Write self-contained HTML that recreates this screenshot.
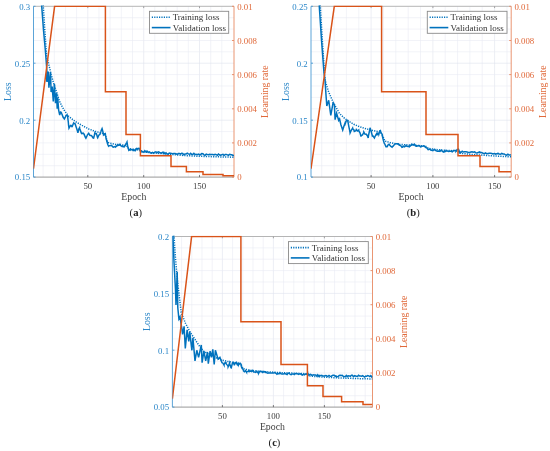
<!DOCTYPE html>
<html><head><meta charset="utf-8"><title>Loss curves</title>
<style>html,body{margin:0;padding:0;background:#fff}svg{display:block}</style></head>
<body>
<svg width="550" height="451" viewBox="0 0 550 451" font-family="'Liberation Serif', 'Times New Roman', serif">
<rect width="550" height="451" fill="#fff"/>
<g stroke-width="0.6"><line x1="43.1" y1="6.3" x2="43.1" y2="177.1" stroke="#e9ebf4"/><line x1="54.3" y1="6.3" x2="54.3" y2="177.1" stroke="#e9ebf4"/><line x1="65.5" y1="6.3" x2="65.5" y2="177.1" stroke="#e9ebf4"/><line x1="76.6" y1="6.3" x2="76.6" y2="177.1" stroke="#e9ebf4"/><line x1="87.8" y1="6.3" x2="87.8" y2="177.1" stroke="#dfe2ed"/><line x1="99.0" y1="6.3" x2="99.0" y2="177.1" stroke="#e9ebf4"/><line x1="110.1" y1="6.3" x2="110.1" y2="177.1" stroke="#e9ebf4"/><line x1="121.3" y1="6.3" x2="121.3" y2="177.1" stroke="#e9ebf4"/><line x1="132.5" y1="6.3" x2="132.5" y2="177.1" stroke="#e9ebf4"/><line x1="143.7" y1="6.3" x2="143.7" y2="177.1" stroke="#dfe2ed"/><line x1="154.8" y1="6.3" x2="154.8" y2="177.1" stroke="#e9ebf4"/><line x1="166.0" y1="6.3" x2="166.0" y2="177.1" stroke="#e9ebf4"/><line x1="177.2" y1="6.3" x2="177.2" y2="177.1" stroke="#e9ebf4"/><line x1="188.3" y1="6.3" x2="188.3" y2="177.1" stroke="#e9ebf4"/><line x1="199.5" y1="6.3" x2="199.5" y2="177.1" stroke="#dfe2ed"/><line x1="210.7" y1="6.3" x2="210.7" y2="177.1" stroke="#e9ebf4"/><line x1="221.8" y1="6.3" x2="221.8" y2="177.1" stroke="#e9ebf4"/><line x1="33.5" y1="165.7" x2="234.0" y2="165.7" stroke="#e9ebf4"/><line x1="33.5" y1="154.3" x2="234.0" y2="154.3" stroke="#e9ebf4"/><line x1="33.5" y1="142.9" x2="234.0" y2="142.9" stroke="#e9ebf4"/><line x1="33.5" y1="131.6" x2="234.0" y2="131.6" stroke="#e9ebf4"/><line x1="33.5" y1="120.2" x2="234.0" y2="120.2" stroke="#dfe2ed"/><line x1="33.5" y1="108.8" x2="234.0" y2="108.8" stroke="#e9ebf4"/><line x1="33.5" y1="97.4" x2="234.0" y2="97.4" stroke="#e9ebf4"/><line x1="33.5" y1="86.0" x2="234.0" y2="86.0" stroke="#e9ebf4"/><line x1="33.5" y1="74.6" x2="234.0" y2="74.6" stroke="#e9ebf4"/><line x1="33.5" y1="63.2" x2="234.0" y2="63.2" stroke="#dfe2ed"/><line x1="33.5" y1="51.8" x2="234.0" y2="51.8" stroke="#e9ebf4"/><line x1="33.5" y1="40.5" x2="234.0" y2="40.5" stroke="#e9ebf4"/><line x1="33.5" y1="29.1" x2="234.0" y2="29.1" stroke="#e9ebf4"/><line x1="33.5" y1="17.7" x2="234.0" y2="17.7" stroke="#e9ebf4"/></g>
<g stroke-width="0.9" fill="none">
<line x1="33.5" y1="6.3" x2="234.0" y2="6.3" stroke="#adadad"/>
<line x1="33.5" y1="177.1" x2="234.0" y2="177.1" stroke="#8c8c8c"/>
<line x1="33.5" y1="6.3" x2="33.5" y2="177.1" stroke="#4a9ad4"/>
<line x1="234.0" y1="6.3" x2="234.0" y2="177.1" stroke="#e88a63"/>
<line x1="87.8" y1="177.1" x2="87.8" y2="175.1" stroke="#666"/>
<line x1="87.8" y1="6.3" x2="87.8" y2="8.1" stroke="#999"/>
<line x1="143.7" y1="177.1" x2="143.7" y2="175.1" stroke="#666"/>
<line x1="143.7" y1="6.3" x2="143.7" y2="8.1" stroke="#999"/>
<line x1="199.5" y1="177.1" x2="199.5" y2="175.1" stroke="#666"/>
<line x1="199.5" y1="6.3" x2="199.5" y2="8.1" stroke="#999"/>
<line x1="33.5" y1="177.1" x2="35.5" y2="177.1" stroke="#4a9ad4"/>
<line x1="33.5" y1="120.2" x2="35.5" y2="120.2" stroke="#4a9ad4"/>
<line x1="33.5" y1="63.2" x2="35.5" y2="63.2" stroke="#4a9ad4"/>
<line x1="33.5" y1="6.3" x2="35.5" y2="6.3" stroke="#4a9ad4"/>
<line x1="234.0" y1="177.1" x2="232.0" y2="177.1" stroke="#e88a63"/>
<line x1="234.0" y1="142.9" x2="232.0" y2="142.9" stroke="#e88a63"/>
<line x1="234.0" y1="108.8" x2="232.0" y2="108.8" stroke="#e88a63"/>
<line x1="234.0" y1="74.6" x2="232.0" y2="74.6" stroke="#e88a63"/>
<line x1="234.0" y1="40.5" x2="232.0" y2="40.5" stroke="#e88a63"/>
<line x1="234.0" y1="6.3" x2="232.0" y2="6.3" stroke="#e88a63"/>
</g>
<clipPath id="ca"><rect x="33.5" y="5.6" width="200.5" height="172.2"/></clipPath>
<g clip-path="url(#ca)" fill="none" stroke-linejoin="round">
<polyline points="43.2,5.0 44.8,30.0 46.7,57.5 48.3,62.2 51.1,74.4 53.8,83.8 56.6,92.1 59.4,101.0 62.1,106.5 64.4,110.5 68.8,116.5 75.5,121.6 82.0,125.4 88.8,129.0 95.4,131.4 102.0,133.0 105.4,135.4 107.6,142.5 115.4,144.3 126.5,145.4 128.7,148.7 137.6,149.8 140.4,150.6 141.5,151.8 155.0,153.0 170.0,154.4 185.0,155.6 200.0,156.3 220.0,156.9 234.0,157.2" stroke="#0072BD" stroke-width="1.5" stroke-dasharray="1.2 1.2"/>
<polyline points="41.6,5.0 43.5,30.0 45.3,50.0 46.1,60.0 46.9,71.0 46.6,81.0 47.3,81.1 48.3,71.6 48.9,87.7 50.5,72.2 51.1,92.0 52.2,86.6 53.3,101.5 54.4,83.8 55.5,103.2 56.6,93.2 57.2,108.7 57.7,97.7 58.6,109.8 59.7,115.0 60.6,112.0 60.8,112.0 61.6,113.0 61.9,114.0 63.0,117.0 63.1,116.9 64.2,118.9 64.3,119.0 65.3,117.1 66.0,115.5 66.4,115.3 67.5,115.8 67.6,116.3 68.3,122.0 68.6,125.3 69.0,128.2 69.8,126.7 70.6,125.5 70.9,125.4 72.0,126.6 72.3,126.3 73.1,124.2 73.6,123.0 74.2,123.6 75.0,123.6 75.3,124.6 76.5,128.0 76.5,128.0 77.6,131.4 77.9,132.9 78.7,129.6 78.8,129.0 79.6,127.6 79.8,128.7 80.6,131.0 80.9,131.9 81.6,133.6 82.0,133.7 83.0,133.0 83.2,133.4 84.3,134.4 84.3,134.9 85.4,137.4 85.9,138.2 86.5,137.0 87.4,135.0 87.6,134.6 88.7,133.3 88.9,133.6 89.9,135.4 90.2,135.5 91.0,135.5 91.6,135.6 92.1,136.5 93.2,138.1 93.6,138.2 94.3,135.5 94.9,132.9 95.4,133.6 96.3,133.5 96.6,134.2 97.6,137.6 97.7,137.8 98.8,135.3 99.0,135.0 99.9,134.4 100.2,133.6 101.0,131.4 101.2,130.5 102.1,128.6 102.2,128.9 103.3,133.4 103.5,134.9 104.4,134.0 105.3,133.6 105.5,135.2 106.2,138.9 106.6,140.3 107.5,143.5 107.7,144.3 108.5,146.0 108.8,145.6 110.0,145.7 111.0,145.4 111.1,145.3 112.2,146.1 113.0,147.0 113.3,147.1 114.4,146.8 115.4,146.5 115.6,147.0 116.7,145.9 117.6,145.0 117.8,145.6 118.9,145.2 119.8,144.3 120.0,145.3 121.1,145.9 122.0,146.5 122.3,145.9 123.4,146.8 124.3,146.0 124.5,146.5 125.6,144.9 125.8,144.0 126.7,142.6 127.0,142.0 127.8,147.0 127.9,147.0 128.7,149.8 129.0,149.3 130.1,150.2 131.0,149.5 131.2,149.7 132.3,149.8 133.0,150.5 133.4,149.6 134.5,150.5 135.5,149.5 135.7,150.2 136.8,148.4 137.6,148.7 137.9,149.0 139.0,148.0 139.0,147.9 140.1,150.0 140.3,151.0 141.4,150.8 142.5,151.8 143.7,152.1 144.8,150.7 145.9,151.9 147.0,151.0 148.1,152.4 149.2,151.8 150.0,152.2 150.4,152.9 151.5,153.2 152.6,152.4 153.7,153.3 154.8,152.1 155.9,151.8 157.1,152.8 158.2,151.8 159.3,152.2 160.0,152.8 160.4,152.7 161.5,153.1 162.6,152.3 163.8,152.2 164.9,153.7 166.0,152.8 167.1,154.0 168.2,153.9 169.3,153.0 170.0,153.3 170.5,153.2 171.6,153.4 172.7,153.7 173.8,153.6 174.9,153.6 176.0,153.8 177.2,154.4 178.3,153.6 179.4,153.6 180.0,153.7 180.5,154.1 181.6,153.3 182.7,153.5 183.9,154.7 185.0,153.9 186.1,154.0 187.2,153.1 188.3,153.9 189.4,154.2 190.0,154.1 190.6,153.3 191.7,154.4 192.8,154.4 193.9,153.4 195.0,154.5 196.1,154.2 197.3,154.6 198.4,154.1 199.5,154.8 200.0,154.4 200.6,154.8 201.7,153.6 202.9,153.7 204.0,154.8 205.1,155.4 206.2,154.1 207.3,154.5 208.4,154.8 209.6,154.4 210.0,154.7 210.7,154.5 211.8,154.4 212.9,154.5 214.0,155.0 215.1,154.4 216.3,154.6 217.4,155.3 218.5,154.0 219.6,155.0 220.0,154.9 220.7,155.3 221.8,154.6 223.0,154.4 224.1,155.5 225.2,154.5 226.3,154.4 227.4,154.9 228.5,155.4 229.7,154.3 230.8,154.7 231.9,154.8 233.0,155.7 234.0,155.1" stroke="#0072BD" stroke-width="1.5" stroke-linejoin="miter"/>
<polyline points="33.5,168.7 54.6,6.3 105.4,6.3 105.4,91.7 126.0,91.7 126.0,134.4 140.4,134.4 140.4,155.8 171.0,155.8 171.0,166.4 186.4,166.4 186.4,171.8 203.0,171.8 203.0,174.4 223.0,174.4 223.0,175.8 234.0,175.8" stroke="#D95319" stroke-width="1.5" stroke-linejoin="miter"/>
</g>
<g font-size="8.8">
<text x="87.8" y="189.1" text-anchor="middle" fill="#404040">50</text>
<text x="143.7" y="189.1" text-anchor="middle" fill="#404040">100</text>
<text x="199.5" y="189.1" text-anchor="middle" fill="#404040">150</text>
<text x="30.2" y="180.4" text-anchor="end" fill="#2a86c8">0.15</text>
<text x="30.2" y="123.5" text-anchor="end" fill="#2a86c8">0.2</text>
<text x="30.2" y="66.5" text-anchor="end" fill="#2a86c8">0.25</text>
<text x="30.2" y="9.6" text-anchor="end" fill="#2a86c8">0.3</text>
<text x="237.2" y="180.4" fill="#e0693a">0</text>
<text x="237.2" y="146.2" fill="#e0693a">0.002</text>
<text x="237.2" y="112.1" fill="#e0693a">0.004</text>
<text x="237.2" y="77.9" fill="#e0693a">0.006</text>
<text x="237.2" y="43.8" fill="#e0693a">0.008</text>
<text x="237.2" y="9.6" fill="#e0693a">0.01</text>
</g>
<g font-size="9.8">
<text x="133.8" y="200.4" text-anchor="middle" fill="#404040">Epoch</text>
<text transform="translate(11.4 91.7) rotate(-90)" text-anchor="middle" fill="#2a86c8">Loss</text>
<text transform="translate(268.0 91.7) rotate(-90)" text-anchor="middle" fill="#e0693a">Learning rate</text>
</g>
<text x="135.8" y="216.1" text-anchor="middle" font-size="10.6" fill="#222">(<tspan font-weight="bold">a</tspan>)</text>
<rect x="149.5" y="11.3" width="79.2" height="22.0" fill="#fff" stroke="#8a8a8a" stroke-width="0.9"/>
<line x1="151.8" y1="17.3" x2="170.5" y2="17.3" stroke="#0072BD" stroke-width="1.6" stroke-dasharray="1.2 1.2"/>
<line x1="151.8" y1="27.6" x2="170.5" y2="27.6" stroke="#0072BD" stroke-width="1.6"/>
<text x="172.7" y="20.3" font-size="9" fill="#333">Training loss</text>
<text x="172.7" y="30.6" font-size="9" fill="#333">Validation loss</text>
<g stroke-width="0.6"><line x1="321.7" y1="6.3" x2="321.7" y2="177.1" stroke="#e9ebf4"/><line x1="334.1" y1="6.3" x2="334.1" y2="177.1" stroke="#e9ebf4"/><line x1="346.4" y1="6.3" x2="346.4" y2="177.1" stroke="#e9ebf4"/><line x1="358.8" y1="6.3" x2="358.8" y2="177.1" stroke="#e9ebf4"/><line x1="371.1" y1="6.3" x2="371.1" y2="177.1" stroke="#dfe2ed"/><line x1="383.5" y1="6.3" x2="383.5" y2="177.1" stroke="#e9ebf4"/><line x1="395.8" y1="6.3" x2="395.8" y2="177.1" stroke="#e9ebf4"/><line x1="408.2" y1="6.3" x2="408.2" y2="177.1" stroke="#e9ebf4"/><line x1="420.5" y1="6.3" x2="420.5" y2="177.1" stroke="#e9ebf4"/><line x1="432.9" y1="6.3" x2="432.9" y2="177.1" stroke="#dfe2ed"/><line x1="445.2" y1="6.3" x2="445.2" y2="177.1" stroke="#e9ebf4"/><line x1="457.6" y1="6.3" x2="457.6" y2="177.1" stroke="#e9ebf4"/><line x1="469.9" y1="6.3" x2="469.9" y2="177.1" stroke="#e9ebf4"/><line x1="482.2" y1="6.3" x2="482.2" y2="177.1" stroke="#e9ebf4"/><line x1="494.6" y1="6.3" x2="494.6" y2="177.1" stroke="#dfe2ed"/><line x1="507.0" y1="6.3" x2="507.0" y2="177.1" stroke="#e9ebf4"/><line x1="311.0" y1="165.7" x2="511.2" y2="165.7" stroke="#e9ebf4"/><line x1="311.0" y1="154.3" x2="511.2" y2="154.3" stroke="#e9ebf4"/><line x1="311.0" y1="142.9" x2="511.2" y2="142.9" stroke="#e9ebf4"/><line x1="311.0" y1="131.6" x2="511.2" y2="131.6" stroke="#e9ebf4"/><line x1="311.0" y1="120.2" x2="511.2" y2="120.2" stroke="#dfe2ed"/><line x1="311.0" y1="108.8" x2="511.2" y2="108.8" stroke="#e9ebf4"/><line x1="311.0" y1="97.4" x2="511.2" y2="97.4" stroke="#e9ebf4"/><line x1="311.0" y1="86.0" x2="511.2" y2="86.0" stroke="#e9ebf4"/><line x1="311.0" y1="74.6" x2="511.2" y2="74.6" stroke="#e9ebf4"/><line x1="311.0" y1="63.2" x2="511.2" y2="63.2" stroke="#dfe2ed"/><line x1="311.0" y1="51.8" x2="511.2" y2="51.8" stroke="#e9ebf4"/><line x1="311.0" y1="40.5" x2="511.2" y2="40.5" stroke="#e9ebf4"/><line x1="311.0" y1="29.1" x2="511.2" y2="29.1" stroke="#e9ebf4"/><line x1="311.0" y1="17.7" x2="511.2" y2="17.7" stroke="#e9ebf4"/></g>
<g stroke-width="0.9" fill="none">
<line x1="311.0" y1="6.3" x2="511.2" y2="6.3" stroke="#adadad"/>
<line x1="311.0" y1="177.1" x2="511.2" y2="177.1" stroke="#8c8c8c"/>
<line x1="311.0" y1="6.3" x2="311.0" y2="177.1" stroke="#4a9ad4"/>
<line x1="511.2" y1="6.3" x2="511.2" y2="177.1" stroke="#e88a63"/>
<line x1="371.1" y1="177.1" x2="371.1" y2="175.1" stroke="#666"/>
<line x1="371.1" y1="6.3" x2="371.1" y2="8.1" stroke="#999"/>
<line x1="432.9" y1="177.1" x2="432.9" y2="175.1" stroke="#666"/>
<line x1="432.9" y1="6.3" x2="432.9" y2="8.1" stroke="#999"/>
<line x1="494.6" y1="177.1" x2="494.6" y2="175.1" stroke="#666"/>
<line x1="494.6" y1="6.3" x2="494.6" y2="8.1" stroke="#999"/>
<line x1="311.0" y1="177.1" x2="313.0" y2="177.1" stroke="#4a9ad4"/>
<line x1="311.0" y1="120.2" x2="313.0" y2="120.2" stroke="#4a9ad4"/>
<line x1="311.0" y1="63.2" x2="313.0" y2="63.2" stroke="#4a9ad4"/>
<line x1="311.0" y1="6.3" x2="313.0" y2="6.3" stroke="#4a9ad4"/>
<line x1="511.2" y1="177.1" x2="509.2" y2="177.1" stroke="#e88a63"/>
<line x1="511.2" y1="142.9" x2="509.2" y2="142.9" stroke="#e88a63"/>
<line x1="511.2" y1="108.8" x2="509.2" y2="108.8" stroke="#e88a63"/>
<line x1="511.2" y1="74.6" x2="509.2" y2="74.6" stroke="#e88a63"/>
<line x1="511.2" y1="40.5" x2="509.2" y2="40.5" stroke="#e88a63"/>
<line x1="511.2" y1="6.3" x2="509.2" y2="6.3" stroke="#e88a63"/>
</g>
<clipPath id="cb"><rect x="311.0" y="5.6" width="200.2" height="172.2"/></clipPath>
<g clip-path="url(#cb)" fill="none" stroke-linejoin="round">
<polyline points="320.2,5.0 322.3,40.0 325.0,80.0 328.3,91.0 331.6,98.8 335.0,105.5 339.4,113.3 343.8,117.7 348.3,121.0 353.8,124.3 359.3,126.6 366.0,128.8 372.6,130.5 380.4,132.0 382.6,135.4 384.8,141.0 390.4,142.7 399.3,144.3 408.0,145.0 414.8,145.4 425.5,146.0 428.5,148.5 440.0,150.0 457.5,151.0 460.0,153.2 470.0,154.3 480.0,155.0 495.0,156.0 511.0,156.8" stroke="#0072BD" stroke-width="1.5" stroke-dasharray="1.2 1.2"/>
<polyline points="319.2,5.0 321.5,40.0 324.0,73.0 325.0,80.0 326.0,95.0 326.8,106.0 328.7,100.3 330.8,115.4 333.0,103.2 334.4,104.5 335.1,119.7 336.6,113.2 338.7,120.4 339.6,119.0 340.9,124.7 342.7,130.0 343.9,126.2 345.0,123.2 345.2,123.9 346.4,120.6 347.6,120.0 347.6,119.8 348.9,126.8 350.0,132.0 350.1,132.9 351.3,130.3 352.6,128.2 352.7,128.8 353.8,129.7 354.3,131.5 355.1,131.1 356.0,130.5 356.3,129.6 357.5,131.0 358.7,130.0 358.8,131.0 360.0,132.8 361.0,136.5 361.2,135.6 362.5,135.0 363.7,132.5 363.8,132.0 364.9,134.0 366.0,134.3 366.2,134.2 367.4,135.7 368.2,138.0 368.6,135.0 369.9,129.2 370.0,127.7 371.1,131.0 372.2,135.4 372.3,135.2 373.6,136.8 374.4,138.0 374.8,137.0 376.0,134.7 377.0,133.2 377.3,134.5 378.5,133.4 378.8,134.5 379.8,130.8 380.4,130.5 381.0,132.9 382.2,134.3 382.2,135.4 383.5,140.8 384.2,143.2 384.7,143.8 385.9,146.6 386.4,146.5 387.2,146.7 388.4,144.5 389.3,144.3 389.6,145.0 390.9,146.4 392.1,147.2 392.2,147.0 393.3,145.9 394.6,144.3 395.3,143.9 395.8,143.7 397.0,143.8 398.3,143.8 398.8,144.7 399.5,145.3 400.7,145.6 402.0,147.4 402.6,147.2 403.2,146.1 404.5,146.9 405.7,145.9 406.0,145.4 406.9,146.3 408.2,146.5 409.2,146.0 409.4,146.6 410.6,145.6 411.9,144.1 412.6,144.7 413.1,145.0 414.0,144.4 414.3,144.1 415.6,145.4 416.0,146.2 416.8,146.3 418.0,145.8 419.0,145.6 419.3,145.5 420.5,146.8 421.7,146.5 422.0,146.4 423.0,146.1 424.2,146.0 425.0,146.5 425.4,147.5 426.7,147.9 427.9,149.4 428.0,149.0 429.2,149.2 430.4,149.5 431.0,150.3 431.6,150.3 432.9,150.7 434.1,149.5 435.0,150.0 436.2,150.7 437.5,151.2 438.7,151.1 439.9,151.4 441.2,150.1 442.4,151.4 443.6,152.0 444.9,150.8 445.0,151.6 446.1,151.1 447.4,151.1 448.6,151.5 449.8,151.3 451.1,151.3 452.3,151.8 453.5,150.4 454.8,150.4 456.0,150.5 456.0,151.2 457.2,149.5 458.0,149.5 458.5,149.3 459.7,152.3 460.0,151.8 460.9,152.5 462.2,151.2 463.4,152.0 464.6,151.7 465.9,151.8 467.1,151.9 468.3,152.5 469.6,152.4 470.8,152.1 472.1,151.8 473.3,152.2 474.5,151.8 475.8,152.7 477.0,153.0 478.2,152.5 479.5,152.0 480.0,152.8 480.7,152.3 481.9,152.7 483.2,153.2 484.4,153.6 485.6,152.9 486.9,153.8 488.1,153.5 489.3,153.2 490.6,153.2 491.8,153.5 493.0,153.9 494.3,153.5 495.0,153.7 495.5,154.1 496.8,153.7 498.0,153.4 499.2,154.0 500.5,154.3 501.7,153.3 502.9,154.0 504.2,154.0 505.4,154.9 506.6,155.1 507.9,154.1 509.1,155.1 510.3,155.0 511.0,154.5" stroke="#0072BD" stroke-width="1.5" stroke-linejoin="miter"/>
<polyline points="311.0,168.7 334.3,6.3 381.6,6.3 381.6,91.7 426.0,91.7 426.0,134.4 458.0,134.4 458.0,155.8 480.0,155.8 480.0,166.4 499.0,166.4 499.0,171.8 511.0,171.8" stroke="#D95319" stroke-width="1.5" stroke-linejoin="miter"/>
</g>
<g font-size="8.8">
<text x="371.1" y="189.1" text-anchor="middle" fill="#404040">50</text>
<text x="432.9" y="189.1" text-anchor="middle" fill="#404040">100</text>
<text x="494.6" y="189.1" text-anchor="middle" fill="#404040">150</text>
<text x="307.7" y="180.4" text-anchor="end" fill="#2a86c8">0.1</text>
<text x="307.7" y="123.5" text-anchor="end" fill="#2a86c8">0.15</text>
<text x="307.7" y="66.5" text-anchor="end" fill="#2a86c8">0.2</text>
<text x="307.7" y="9.6" text-anchor="end" fill="#2a86c8">0.25</text>
<text x="514.4" y="180.4" fill="#e0693a">0</text>
<text x="514.4" y="146.2" fill="#e0693a">0.002</text>
<text x="514.4" y="112.1" fill="#e0693a">0.004</text>
<text x="514.4" y="77.9" fill="#e0693a">0.006</text>
<text x="514.4" y="43.8" fill="#e0693a">0.008</text>
<text x="514.4" y="9.6" fill="#e0693a">0.01</text>
</g>
<g font-size="9.8">
<text x="411.1" y="200.4" text-anchor="middle" fill="#404040">Epoch</text>
<text transform="translate(289.0 91.7) rotate(-90)" text-anchor="middle" fill="#2a86c8">Loss</text>
<text transform="translate(545.6 91.7) rotate(-90)" text-anchor="middle" fill="#e0693a">Learning rate</text>
</g>
<text x="413.2" y="216.1" text-anchor="middle" font-size="10.6" fill="#222">(<tspan font-weight="bold">b</tspan>)</text>
<rect x="427.3" y="11.3" width="79.7" height="22.0" fill="#fff" stroke="#8a8a8a" stroke-width="0.9"/>
<line x1="429.6" y1="17.3" x2="448.3" y2="17.3" stroke="#0072BD" stroke-width="1.6" stroke-dasharray="1.2 1.2"/>
<line x1="429.6" y1="27.6" x2="448.3" y2="27.6" stroke="#0072BD" stroke-width="1.6"/>
<text x="450.5" y="20.3" font-size="9" fill="#333">Training loss</text>
<text x="450.5" y="30.6" font-size="9" fill="#333">Validation loss</text>
<g stroke-width="0.6"><line x1="181.6" y1="236.5" x2="181.6" y2="407.1" stroke="#e9ebf4"/><line x1="191.8" y1="236.5" x2="191.8" y2="407.1" stroke="#e9ebf4"/><line x1="202.0" y1="236.5" x2="202.0" y2="407.1" stroke="#e9ebf4"/><line x1="212.2" y1="236.5" x2="212.2" y2="407.1" stroke="#e9ebf4"/><line x1="222.4" y1="236.5" x2="222.4" y2="407.1" stroke="#dfe2ed"/><line x1="232.6" y1="236.5" x2="232.6" y2="407.1" stroke="#e9ebf4"/><line x1="242.8" y1="236.5" x2="242.8" y2="407.1" stroke="#e9ebf4"/><line x1="253.0" y1="236.5" x2="253.0" y2="407.1" stroke="#e9ebf4"/><line x1="263.2" y1="236.5" x2="263.2" y2="407.1" stroke="#e9ebf4"/><line x1="273.4" y1="236.5" x2="273.4" y2="407.1" stroke="#dfe2ed"/><line x1="283.6" y1="236.5" x2="283.6" y2="407.1" stroke="#e9ebf4"/><line x1="293.8" y1="236.5" x2="293.8" y2="407.1" stroke="#e9ebf4"/><line x1="304.0" y1="236.5" x2="304.0" y2="407.1" stroke="#e9ebf4"/><line x1="314.2" y1="236.5" x2="314.2" y2="407.1" stroke="#e9ebf4"/><line x1="324.4" y1="236.5" x2="324.4" y2="407.1" stroke="#dfe2ed"/><line x1="334.6" y1="236.5" x2="334.6" y2="407.1" stroke="#e9ebf4"/><line x1="344.8" y1="236.5" x2="344.8" y2="407.1" stroke="#e9ebf4"/><line x1="355.0" y1="236.5" x2="355.0" y2="407.1" stroke="#e9ebf4"/><line x1="365.2" y1="236.5" x2="365.2" y2="407.1" stroke="#e9ebf4"/><line x1="172.4" y1="395.7" x2="372.5" y2="395.7" stroke="#e9ebf4"/><line x1="172.4" y1="384.4" x2="372.5" y2="384.4" stroke="#e9ebf4"/><line x1="172.4" y1="373.0" x2="372.5" y2="373.0" stroke="#e9ebf4"/><line x1="172.4" y1="361.6" x2="372.5" y2="361.6" stroke="#e9ebf4"/><line x1="172.4" y1="350.2" x2="372.5" y2="350.2" stroke="#dfe2ed"/><line x1="172.4" y1="338.9" x2="372.5" y2="338.9" stroke="#e9ebf4"/><line x1="172.4" y1="327.5" x2="372.5" y2="327.5" stroke="#e9ebf4"/><line x1="172.4" y1="316.1" x2="372.5" y2="316.1" stroke="#e9ebf4"/><line x1="172.4" y1="304.7" x2="372.5" y2="304.7" stroke="#e9ebf4"/><line x1="172.4" y1="293.4" x2="372.5" y2="293.4" stroke="#dfe2ed"/><line x1="172.4" y1="282.0" x2="372.5" y2="282.0" stroke="#e9ebf4"/><line x1="172.4" y1="270.6" x2="372.5" y2="270.6" stroke="#e9ebf4"/><line x1="172.4" y1="259.2" x2="372.5" y2="259.2" stroke="#e9ebf4"/><line x1="172.4" y1="247.9" x2="372.5" y2="247.9" stroke="#e9ebf4"/></g>
<g stroke-width="0.9" fill="none">
<line x1="172.4" y1="236.5" x2="372.5" y2="236.5" stroke="#adadad"/>
<line x1="172.4" y1="407.1" x2="372.5" y2="407.1" stroke="#8c8c8c"/>
<line x1="172.4" y1="236.5" x2="172.4" y2="407.1" stroke="#4a9ad4"/>
<line x1="372.5" y1="236.5" x2="372.5" y2="407.1" stroke="#e88a63"/>
<line x1="222.4" y1="407.1" x2="222.4" y2="405.1" stroke="#666"/>
<line x1="222.4" y1="236.5" x2="222.4" y2="238.3" stroke="#999"/>
<line x1="273.4" y1="407.1" x2="273.4" y2="405.1" stroke="#666"/>
<line x1="273.4" y1="236.5" x2="273.4" y2="238.3" stroke="#999"/>
<line x1="324.4" y1="407.1" x2="324.4" y2="405.1" stroke="#666"/>
<line x1="324.4" y1="236.5" x2="324.4" y2="238.3" stroke="#999"/>
<line x1="172.4" y1="407.1" x2="174.4" y2="407.1" stroke="#4a9ad4"/>
<line x1="172.4" y1="350.2" x2="174.4" y2="350.2" stroke="#4a9ad4"/>
<line x1="172.4" y1="293.4" x2="174.4" y2="293.4" stroke="#4a9ad4"/>
<line x1="172.4" y1="236.5" x2="174.4" y2="236.5" stroke="#4a9ad4"/>
<line x1="372.5" y1="407.1" x2="370.5" y2="407.1" stroke="#e88a63"/>
<line x1="372.5" y1="373.0" x2="370.5" y2="373.0" stroke="#e88a63"/>
<line x1="372.5" y1="338.9" x2="370.5" y2="338.9" stroke="#e88a63"/>
<line x1="372.5" y1="304.7" x2="370.5" y2="304.7" stroke="#e88a63"/>
<line x1="372.5" y1="270.6" x2="370.5" y2="270.6" stroke="#e88a63"/>
<line x1="372.5" y1="236.5" x2="370.5" y2="236.5" stroke="#e88a63"/>
</g>
<clipPath id="cc"><rect x="172.4" y="235.8" width="200.1" height="172.0"/></clipPath>
<g clip-path="url(#cc)" fill="none" stroke-linejoin="round">
<polyline points="174.0,235.0 175.2,255.0 176.5,270.0 177.8,283.6 179.6,299.0 181.2,312.5 185.5,323.3 190.0,332.0 194.4,338.5 198.8,345.2 203.3,351.0 208.8,354.3 214.3,357.0 221.0,359.8 227.6,361.4 234.3,362.7 241.0,364.3 243.2,368.7 249.8,370.3 258.7,371.2 269.8,372.0 281.0,372.6 295.0,373.2 307.0,373.8 309.0,376.0 322.0,377.0 335.0,377.8 355.0,378.5 372.5,379.0" stroke="#0072BD" stroke-width="1.5" stroke-dasharray="1.2 1.2"/>
<polyline points="172.9,235.0 174.0,262.0 175.5,290.0 176.0,305.0 177.2,272.0 177.8,307.7 178.9,318.8 180.0,316.6 180.9,322.8 181.8,328.0 182.6,334.3 184.1,326.3 185.3,348.5 187.1,329.9 188.8,341.4 189.7,331.7 191.9,350.3 192.9,337.9 195.0,360.9 196.8,350.3 198.6,357.4 201.3,345.0 202.1,362.7 203.9,351.2 205.7,360.9 207.5,352.0 208.3,363.6 210.1,351.2 211.4,357.4 212.8,349.4 214.2,364.5 215.4,350.3 218.1,359.1 219.9,357.4 222.0,362.7 223.0,363.2 224.0,365.0 224.0,364.8 225.1,362.5 226.0,362.5 226.1,363.6 227.1,364.9 228.0,366.0 228.1,366.9 229.1,364.6 229.5,363.0 230.2,365.6 231.0,367.8 231.2,367.9 232.2,364.0 232.5,362.8 233.2,362.3 234.2,364.8 234.5,364.8 235.3,362.7 236.3,362.3 236.5,363.2 237.3,364.7 238.3,363.5 238.5,365.0 239.3,363.5 240.4,363.3 241.0,364.3 241.4,366.7 242.4,369.0 242.4,368.4 243.4,370.0 243.5,371.0 244.4,371.8 245.5,370.7 246.5,372.2 246.5,371.6 247.5,371.5 248.5,371.4 249.0,370.6 249.5,371.5 250.6,371.0 251.6,371.5 252.0,371.0 252.6,370.4 253.6,372.0 254.6,371.9 255.0,372.0 255.7,372.4 256.7,371.4 257.7,372.7 258.7,372.3 258.7,373.1 259.7,371.3 260.8,371.5 261.8,371.8 262.0,371.6 262.8,372.4 263.8,371.6 264.8,371.7 265.3,372.4 265.9,372.0 266.9,372.9 267.9,373.3 268.9,372.8 269.8,373.1 270.8,372.9 271.8,373.0 272.9,373.0 273.9,373.1 274.9,372.6 275.9,373.3 276.9,374.2 278.0,373.3 279.0,373.9 280.0,372.9 281.0,373.9 282.0,374.0 283.1,373.9 284.1,373.7 285.0,373.7 285.1,373.7 286.1,374.0 287.1,374.5 288.2,373.2 289.2,373.1 290.2,374.4 291.2,374.7 292.2,374.0 293.3,373.9 294.3,374.5 295.3,373.5 296.3,373.7 297.3,373.7 298.4,374.4 299.4,373.9 300.4,373.8 301.4,374.7 302.4,375.2 303.5,374.1 304.5,374.8 305.0,374.5 305.5,374.1 306.5,374.3 307.5,373.2 307.5,373.4 308.6,374.2 309.0,375.2 309.6,374.7 310.6,374.4 311.6,375.2 312.6,375.1 313.7,374.7 314.7,375.1 315.7,375.0 316.7,375.9 317.7,374.8 318.8,376.3 319.8,375.4 320.8,375.7 321.8,375.4 322.8,376.1 323.9,376.1 324.9,375.7 325.9,375.6 326.9,376.0 327.9,376.3 329.0,375.5 330.0,376.1 331.0,376.5 332.0,375.7 333.0,375.3 334.1,375.3 335.0,375.8 335.1,376.2 336.1,376.1 337.1,376.7 338.1,376.5 339.2,375.4 340.2,375.3 341.2,375.5 342.2,375.3 343.2,376.3 344.3,376.6 345.3,376.7 346.3,375.5 347.3,376.6 348.3,375.7 349.4,375.9 350.4,376.4 351.4,375.3 352.4,375.3 353.4,376.7 354.5,375.7 355.0,376.1 355.5,375.8 356.5,376.3 357.5,376.4 358.5,375.3 359.6,375.9 360.6,376.0 361.6,376.2 362.6,375.7 363.6,376.4 364.7,377.0 365.7,376.0 366.7,376.3 367.7,375.6 368.7,375.9 369.8,376.6 370.8,375.6 371.8,377.0 372.5,376.3" stroke="#0072BD" stroke-width="1.5" stroke-linejoin="miter"/>
<polyline points="172.4,398.7 191.6,236.5 240.9,236.5 240.9,321.8 281.0,321.8 281.0,364.5 307.4,364.5 307.4,385.8 323.0,385.8 323.0,396.4 341.6,396.4 341.6,401.8 363.0,401.8 363.0,404.4 372.5,404.4" stroke="#D95319" stroke-width="1.5" stroke-linejoin="miter"/>
</g>
<g font-size="8.8">
<text x="222.4" y="419.1" text-anchor="middle" fill="#404040">50</text>
<text x="273.4" y="419.1" text-anchor="middle" fill="#404040">100</text>
<text x="324.4" y="419.1" text-anchor="middle" fill="#404040">150</text>
<text x="169.1" y="410.4" text-anchor="end" fill="#2a86c8">0.05</text>
<text x="169.1" y="353.5" text-anchor="end" fill="#2a86c8">0.1</text>
<text x="169.1" y="296.7" text-anchor="end" fill="#2a86c8">0.15</text>
<text x="169.1" y="239.8" text-anchor="end" fill="#2a86c8">0.2</text>
<text x="375.7" y="410.4" fill="#e0693a">0</text>
<text x="375.7" y="376.3" fill="#e0693a">0.002</text>
<text x="375.7" y="342.2" fill="#e0693a">0.004</text>
<text x="375.7" y="308.0" fill="#e0693a">0.006</text>
<text x="375.7" y="273.9" fill="#e0693a">0.008</text>
<text x="375.7" y="239.8" fill="#e0693a">0.01</text>
</g>
<g font-size="9.8">
<text x="272.4" y="430.4" text-anchor="middle" fill="#404040">Epoch</text>
<text transform="translate(150.4 321.8) rotate(-90)" text-anchor="middle" fill="#2a86c8">Loss</text>
<text transform="translate(407.3 321.8) rotate(-90)" text-anchor="middle" fill="#e0693a">Learning rate</text>
</g>
<text x="274.5" y="446.1" text-anchor="middle" font-size="10.6" fill="#222">(<tspan font-weight="bold">c</tspan>)</text>
<rect x="288.5" y="241.6" width="79.8" height="22.0" fill="#fff" stroke="#8a8a8a" stroke-width="0.9"/>
<line x1="290.8" y1="247.6" x2="309.5" y2="247.6" stroke="#0072BD" stroke-width="1.6" stroke-dasharray="1.2 1.2"/>
<line x1="290.8" y1="257.9" x2="309.5" y2="257.9" stroke="#0072BD" stroke-width="1.6"/>
<text x="311.7" y="250.6" font-size="9" fill="#333">Training loss</text>
<text x="311.7" y="260.9" font-size="9" fill="#333">Validation loss</text>
</svg>
</body></html>
